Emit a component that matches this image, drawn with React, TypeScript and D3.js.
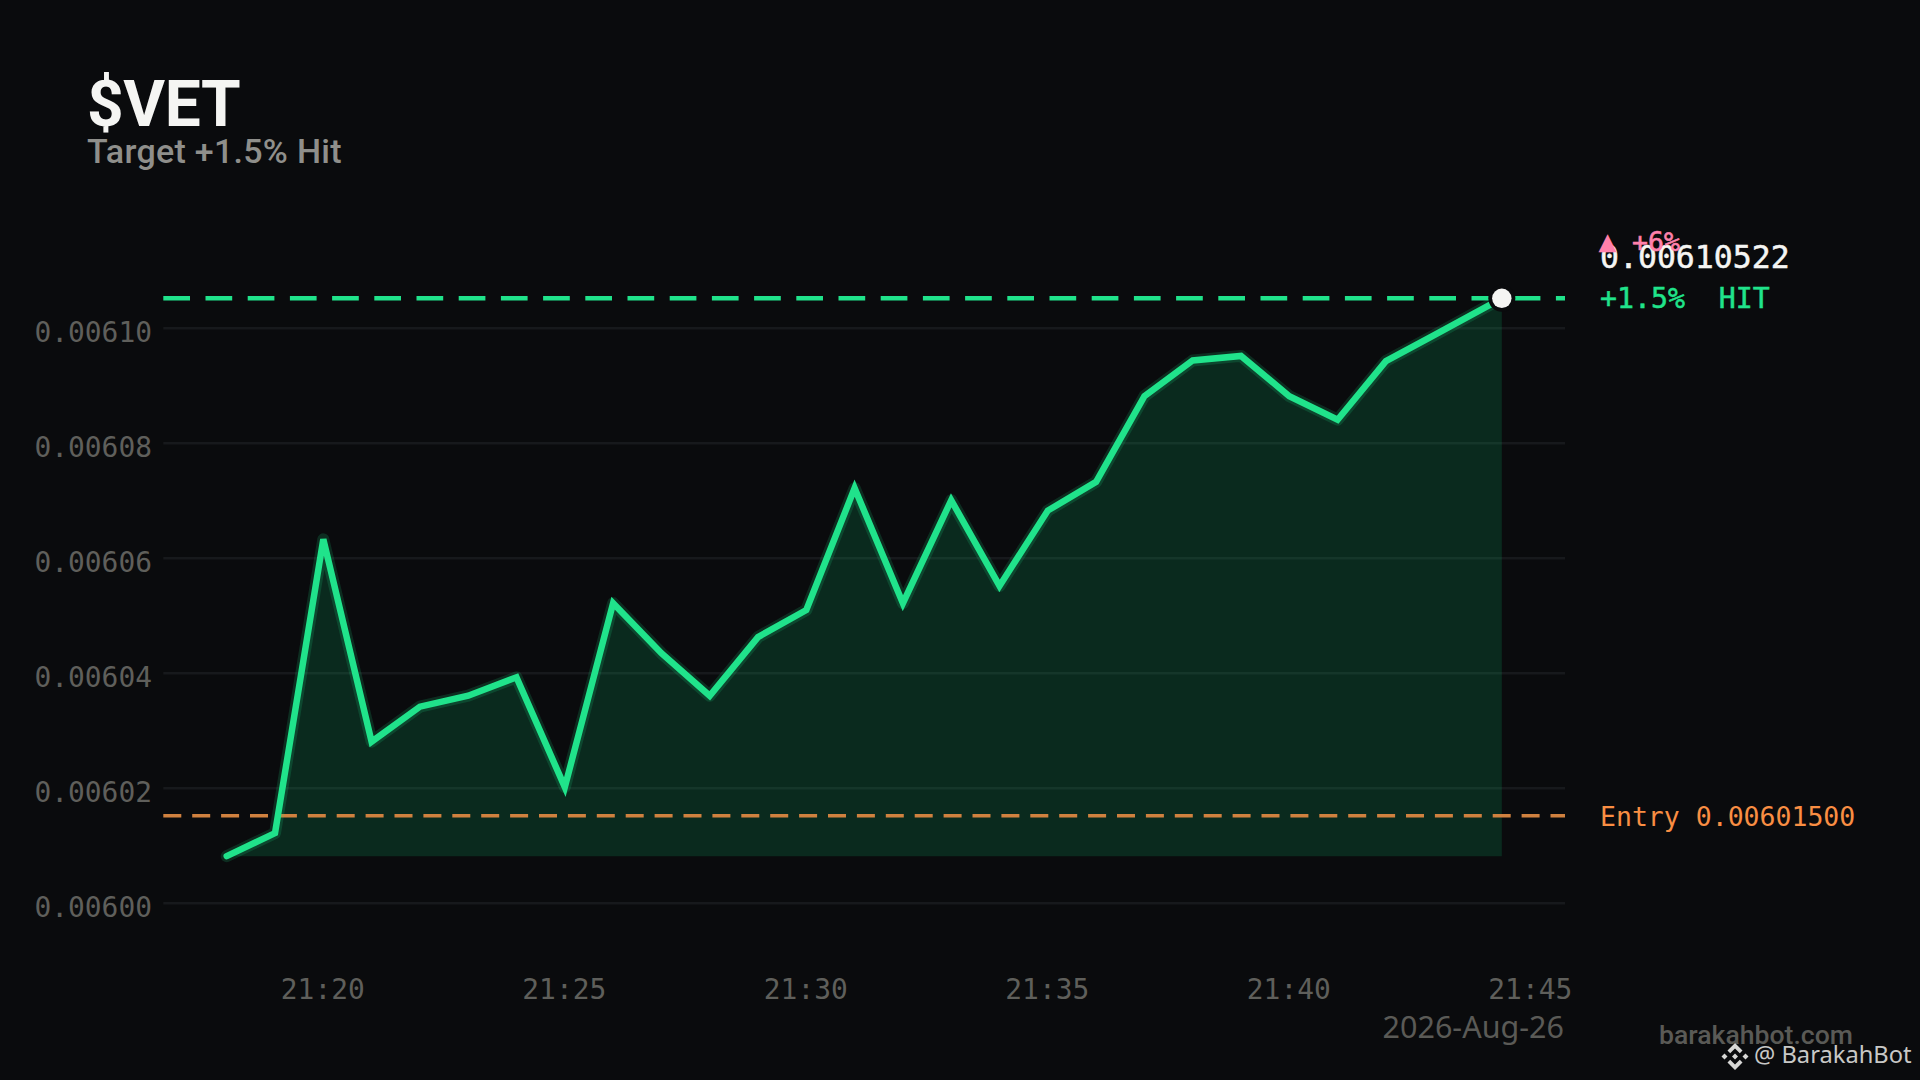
import React from "react";
import * as d3 from "d3";

const minutes = [18,19,20,21,22,23,24,25,26,27,28,29,30,31,32,33,34,35,36,37,38,39,40,41,42,43,44.4];
const prices = [0.0060082,0.0060122,0.0060633,0.0060281,0.0060342,0.0060361,0.0060393,0.0060202,0.0060522,0.0060435,0.0060361,0.0060463,0.006051,0.0060722,0.0060522,0.0060701,0.0060552,0.0060683,0.0060733,0.0060882,0.0060944,0.0060952,0.0060882,0.0060841,0.0060943,0.0060988,0.00610522];
const yTicks = [0.006,0.00602,0.00604,0.00606,0.00608,0.0061];
const xTickMinutes = [20,25,30,35,40,45];
const targetLevel = 0.00610522;
const entryLevel = 0.00601523;

const BG = "#0a0b0d";
const GREEN = "#20e38b";
const MONO = "'DejaVu Sans Mono', monospace";
const SANS = "Roboto, sans-serif";

export default function App() {
  const x = d3.scaleLinear().domain([16.687, 45.708]).range([163.3, 1565]);
  const y = d3.scaleLinear().domain([0.006, 0.0061]).range([903.3, 328.3]);
  const pts = minutes.map((m, i) => [m, prices[i]] as [number, number]);
  const line = d3.line<[number, number]>().x(d => x(d[0])).y(d => y(d[1]));
  const baseValue = d3.min(prices) as number;
  const area = d3.area<[number, number]>().x(d => x(d[0])).y0(y(baseValue)).y1(d => y(d[1]));
  const last = pts[pts.length - 1];
  const left = x.range()[0], right = x.range()[1];
  const fmt = (m: number) => `21:${m}`;
  return (
    <svg width={1920} height={1080} viewBox="0 0 1920 1080"
      style={{ position: "absolute", left: 0, top: 0, display: "block", background: BG }}>
      <rect x={0} y={0} width={1920} height={1080} fill={BG} />
      <text x={87} y={126} fontFamily={SANS} fontWeight={700} fontSize={64} letterSpacing={-0.35} fill="#f5f5f3">$VET</text>
      <text x={87} y={163} fontFamily={SANS} fontWeight={500} fontSize={34} letterSpacing={0.28} fill="#8f8f8b">Target +1.5% Hit</text>

      {yTicks.map(t => (
        <g key={t}>
          <line x1={left} x2={right} y1={y(t)} y2={y(t)} stroke="#17191c" strokeWidth={2.4} />
          <text x={152} y={y(t) + 13.4} textAnchor="end" fontFamily={MONO} fontSize={27.9} fill="#5f5f5b">{t.toFixed(5)}</text>
        </g>
      ))}
      {xTickMinutes.map(m => (
        <text key={m} x={x(m) - 0.5} y={999.3} textAnchor="middle" fontFamily={MONO} fontSize={27.9} fill="#5f5f5b">{fmt(m)}</text>
      ))}
      <path d={area(pts) as string} fill="#10e080" fillOpacity={0.15} />
      <line x1={left} x2={right} y1={y(entryLevel)} y2={y(entryLevel)} stroke="#d0813f" strokeWidth={3.7} strokeDasharray="18 10.9" />
      <line x1={left} x2={right} y1={y(targetLevel)} y2={y(targetLevel)} stroke={GREEN} strokeWidth={4.6} strokeDasharray="26.7 15.5" />
      <path d={line(pts) as string} fill="none" stroke={GREEN} strokeOpacity={0.16} strokeWidth={12} strokeLinejoin="round" strokeLinecap="round" />
      <path d={line(pts) as string} fill="none" stroke={GREEN} strokeWidth={6.5} strokeLinejoin="miter" strokeLinecap="round" />
      <circle cx={x(last[0])} cy={y(last[1])} r={13.5} fill={BG} />
      <circle cx={x(last[0])} cy={y(last[1])} r={9.7} fill="#f5f5f3" />

      <text x={1600} y={267.7} fontFamily={MONO} fontWeight={500} fontSize={31.5} stroke="#f5f5f3" strokeWidth={0.5} fill="#f5f5f3">{targetLevel.toFixed(8)}</text>
      <text x={1598.5} y={250.7} fontFamily={MONO} fontSize={30} fill="#ff80ab">▲</text>
      <text x={1632} y={250.7} fontFamily={MONO} fontSize={26.5} stroke="#ff80ab" strokeWidth={0.6} fill="#ff80ab">+6%</text>
      <text x={1600} y={307.7} fontFamily={MONO} fontWeight={500} fontSize={28.2} stroke={GREEN} strokeWidth={0.5} fill={GREEN} style={{ whiteSpace: "pre" }}>+1.5%  HIT</text>
      <text x={1600} y={825.7} fontFamily={MONO} fontSize={26.5} fill="#f98e43">Entry 0.00601500</text>

      <text x={1564} y={1037.5} textAnchor="end" fontFamily="'Noto Sans', sans-serif" fontSize={30.5} fill="#5a5a56">2026-Aug-26</text>
      <text x={1659} y={1043.5} fontFamily={SANS} fontWeight={500} fontSize={26.6} fill="#5a5a56">barakahbot.com</text>
      <g transform="translate(1735,1056.5)" fill="#d8d8d6">
        <path d="M0 -13.5 L7.5 -6 L4.8 -3.3 L0 -8 L-4.8 -3.3 L-7.5 -6 Z" />
        <path d="M0 13.5 L7.5 6 L4.8 3.3 L0 8 L-4.8 3.3 L-7.5 6 Z" />
        <path d="M-13.5 0 L-10.5 -3 L-7.5 0 L-10.5 3 Z" />
        <path d="M13.5 0 L10.5 -3 L7.5 0 L10.5 3 Z" />
        <path d="M0 -3 L3 0 L0 3 L-3 0 Z" />
      </g>
      <text x={1754} y={1063} fontFamily="'Noto Sans', sans-serif" fontSize={23.7} fill="#c8c8c6">@ BarakahBot</text>
    </svg>
  );
}
